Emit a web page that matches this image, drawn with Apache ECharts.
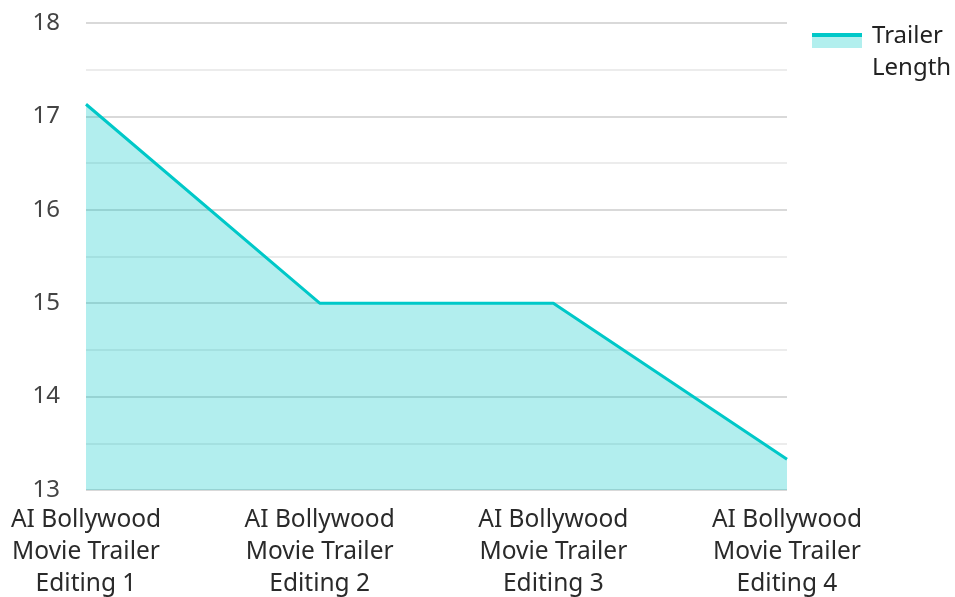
<!DOCTYPE html>
<html>
<head>
<meta charset="utf-8">
<script src="https://cdn.jsdelivr.net/npm/echarts@6/dist/echarts.min.js"></script>
<style>html,body{margin:0;padding:0;background:#fff}#c{width:955px;height:597px}</style>
</head>
<body>
<div id="c"></div>
<script>
var categories = ['AI Bollywood\nMovie Trailer\nEditing 1','AI Bollywood\nMovie Trailer\nEditing 2','AI Bollywood\nMovie Trailer\nEditing 3','AI Bollywood\nMovie Trailer\nEditing 4'];
var trailerLength = [17.13, 15, 15, 13.33];
var seriesName = 'Trailer Length';
var yMin = 13, yMax = 18, yInterval = 1;

var chart = echarts.init(document.getElementById('c'), null, {renderer:'canvas'});
var font = 'Noto Sans';
chart.setOption({
  animation:false,
  textStyle:{fontFamily:font},
  grid:{left:86, right:168, top:23, bottom:107, containLabel:false, outerBoundsMode:'none'},
  legend:{
    show:true, left:807, top:15, orient:'vertical', padding:5,
    icon:'rect', itemWidth:55, itemHeight:14,
    itemStyle:{color:'rgba(0,0,0,0)'},
    formatter:function(){return 'Trailer\nLength';},
    textStyle:{fontFamily:font, fontSize:24, color:'#222', lineHeight:32}
  },
  graphic:[
    {type:'rect', shape:{x:812, y:37, width:50, height:11}, style:{fill:'#b2efee'}, z:100},
    {type:'rect', shape:{x:812, y:33, width:50, height:4}, style:{fill:'#00c8c8'}, z:101}
  ],
  xAxis:{
    type:'category', data:categories, boundaryGap:false,
    axisLine:{show:false}, axisTick:{show:false},
    axisLabel:{fontFamily:font, fontSize:24.5, color:'#2a2a2a', lineHeight:32, margin:14, interval:0},
    splitLine:{show:false}
  },
  yAxis:{
    type:'value', min:yMin, max:yMax, interval:yInterval,
    axisLine:{show:false}, axisTick:{show:false},
    axisLabel:{fontFamily:font, fontSize:24, color:'#444', margin:26},
    splitLine:{show:true, lineStyle:{color:'#cccccc', width:1.5}},
    minorTick:{show:false, splitNumber:2},
    minorSplitLine:{show:true, lineStyle:{color:'#e6e6e6', width:1.5}}
  },
  series:[{
    name:seriesName, type:'line', data:trailerLength,
    showSymbol:false, symbol:'none',
    lineStyle:{color:'#00c8c8', width:3},
    itemStyle:{color:'#00c8c8'},
    areaStyle:{color:'#00c8c8', opacity:0.3}
  }]
});
</script>
</body>
</html>
